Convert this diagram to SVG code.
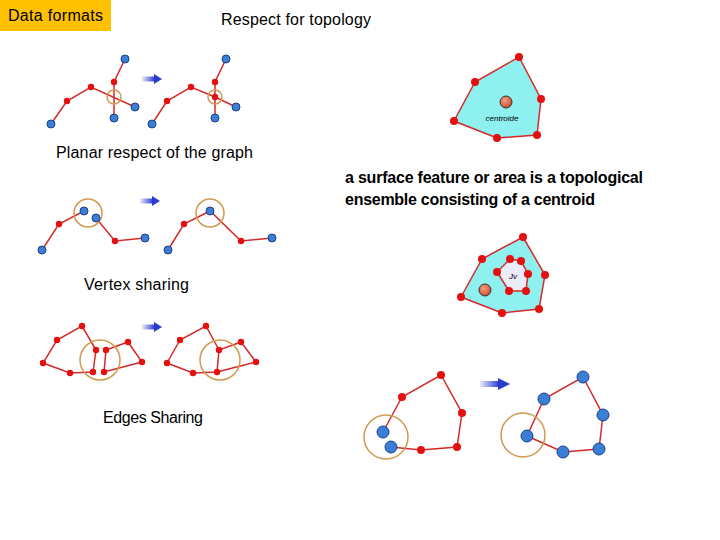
<svg xmlns="http://www.w3.org/2000/svg" width="720" height="540" viewBox="0 0 720 540">
<defs>
<style>
text{font-family:"Liberation Sans","Noto Sans",sans-serif;fill:#000}
.t{font-size:16px}
.e{stroke:#d42a2a;stroke-width:1.5;fill:none}
.r{fill:#e41010}
.b{fill:#3a7fd5;stroke:#1d3f8a;stroke-width:1}
.c{fill:none;stroke:#d09a50;stroke-width:1.5}
.poly{fill:#8ff0f0;stroke:#d42a2a;stroke-width:1.5}
</style>
<linearGradient id="ag" x1="0" x2="1"><stop offset="0" stop-color="#e8ecf8"/><stop offset="1" stop-color="#2a3bd0"/></linearGradient>
<radialGradient id="bg" cx="0.4" cy="0.35" r="0.7"><stop offset="0" stop-color="#8fc3ff"/><stop offset="1" stop-color="#1e5fc0"/></radialGradient>
<radialGradient id="og" cx="0.4" cy="0.35" r="0.7"><stop offset="0" stop-color="#f5a080"/><stop offset="1" stop-color="#c84a2a"/></radialGradient>
<g id="arr"><rect x="0" y="-2.5" width="13" height="5" fill="url(#ag)"/><path d="M12,-5 L20,0 L12,5 Z" fill="#2a3bd0"/></g>
</defs>
<rect x="0" y="0" width="111" height="31" fill="#ffc000"/>
<text class="t" x="8" y="21" textLength="95">Data formats</text>
<text class="t" x="221" y="25" textLength="150">Respect for topology</text>
<text class="t" x="56" y="158" textLength="197">Planar respect of the graph</text>
<text class="t" x="345" y="183" font-weight="bold" font-size="15" textLength="298">a surface feature or area is a topological</text>
<text class="t" x="345" y="205" font-weight="bold" font-size="15" textLength="250">ensemble consisting of a centroid</text>
<text class="t" x="84" y="290" textLength="105">Vertex sharing</text>
<text class="t" x="103" y="423" textLength="100">Edges Sharing</text>

<g id="connectors">
<polyline class="e" points="51,124 67,101 91,87 135,107"/>
<polyline class="e" points="125,59 114,82 114,118"/>
<polyline class="e" points="152,124 167,101 191,87 215,97 236,107"/>
<polyline class="e" points="226,59 215,82 215,118"/>
<polyline class="e" points="42,250 59,224 84,211"/>
<polyline class="e" points="96,218 115,241 145,238"/>
<polyline class="e" points="168,250 184,224 210,211 241,241 272,238"/>
<polyline class="e" points="96,350 82,326 57,340 43,363 70,373 93,372 96,350"/>
<polyline class="e" points="106,350 128,342 142,362 104,372 106,350"/>
<polyline class="e" points="219,350 206,326 180,340 167,363 193,373 217,372 219,350 241,342 256,362 217,372"/>
<polyline class="e" points="383,432 402,397 441,375 462,413 457,447 421,450 391,447"/>
<polyline class="e" points="527,436 544,399 583,377 603,415 599,449 563,452 527,436"/>
</g>

<g id="n1">
<circle class="c" cx="114" cy="97" r="7"/>
<circle class="r" cx="67" cy="101" r="3.2"/><circle class="r" cx="91" cy="87" r="3.2"/><circle class="r" cx="114" cy="82" r="3.2"/>
<circle class="b" cx="51" cy="124" r="4" fill="url(#bg)"/><circle class="b" cx="125" cy="59" r="4" fill="url(#bg)"/><circle class="b" cx="135" cy="107" r="4" fill="url(#bg)"/><circle class="b" cx="114" cy="118" r="4" fill="url(#bg)"/>
</g>
<use href="#arr" x="142" y="79"/>
<g id="n2">
<circle class="c" cx="215" cy="97" r="7"/>
<circle class="r" cx="167" cy="101" r="3.2"/><circle class="r" cx="191" cy="87" r="3.2"/><circle class="r" cx="215" cy="82" r="3.2"/><circle class="r" cx="215" cy="97" r="3.2"/>
<circle class="b" cx="152" cy="124" r="4" fill="url(#bg)"/><circle class="b" cx="226" cy="59" r="4" fill="url(#bg)"/><circle class="b" cx="236" cy="107" r="4" fill="url(#bg)"/><circle class="b" cx="215" cy="118" r="4" fill="url(#bg)"/>
</g>

<g id="n3">
<circle class="c" cx="88" cy="213" r="14"/>
<circle class="r" cx="59" cy="224" r="3.2"/><circle class="r" cx="115" cy="241" r="3.2"/>
<circle class="b" cx="42" cy="250" r="4" fill="url(#bg)"/><circle class="b" cx="84" cy="211" r="4" fill="url(#bg)"/><circle class="b" cx="96" cy="218" r="4" fill="url(#bg)"/><circle class="b" cx="145" cy="238" r="4" fill="url(#bg)"/>
</g>
<use href="#arr" x="140" y="201"/>
<g id="n4">
<circle class="c" cx="210" cy="213" r="14"/>
<circle class="r" cx="184" cy="224" r="3.2"/><circle class="r" cx="241" cy="241" r="3.2"/>
<circle class="b" cx="168" cy="250" r="4" fill="url(#bg)"/><circle class="b" cx="210" cy="211" r="4" fill="url(#bg)"/><circle class="b" cx="272" cy="238" r="4" fill="url(#bg)"/>
</g>

<g id="n5">
<circle class="c" cx="100" cy="360" r="20"/>
<g class="r"><circle cx="96" cy="350" r="3.2"/><circle cx="82" cy="326" r="3.2"/><circle cx="57" cy="340" r="3.2"/><circle cx="43" cy="363" r="3.2"/><circle cx="70" cy="373" r="3.2"/><circle cx="93" cy="372" r="3.2"/><circle cx="106" cy="350" r="3.2"/><circle cx="128" cy="342" r="3.2"/><circle cx="142" cy="362" r="3.2"/><circle cx="104" cy="372" r="3.2"/></g>
</g>
<use href="#arr" x="142" y="327"/>
<g id="n6">
<circle class="c" cx="220" cy="360" r="20"/>
<g class="r"><circle cx="219" cy="350" r="3.2"/><circle cx="206" cy="326" r="3.2"/><circle cx="180" cy="340" r="3.2"/><circle cx="167" cy="363" r="3.2"/><circle cx="193" cy="373" r="3.2"/><circle cx="217" cy="372" r="3.2"/><circle cx="241" cy="342" r="3.2"/><circle cx="256" cy="362" r="3.2"/></g>
</g>

<g id="n7">
<polygon class="poly" points="519,57 541,99 537,135 497,138 454,121 475,82"/>
<g class="r"><circle cx="519" cy="57" r="4"/><circle cx="541" cy="99" r="4"/><circle cx="537" cy="135" r="4"/><circle cx="497" cy="138" r="4"/><circle cx="454" cy="121" r="4"/><circle cx="475" cy="82" r="4"/></g>
<circle cx="506" cy="102" r="6" fill="url(#og)" stroke="#333" stroke-width="1"/>
<text x="502" y="121" font-size="8" font-style="italic" text-anchor="middle" fill="#2a3a50">centroide</text>
</g>

<g id="n8">
<polygon class="poly" points="523,237 545,275 539,309 502,313 461,297 482,259"/>
<polygon points="510,259 521,261 528,274 526,291 509,291 497,272" fill="#ecebf8" stroke="#d42a2a" stroke-width="1.5"/>
<g class="r"><circle cx="523" cy="237" r="4"/><circle cx="545" cy="275" r="4"/><circle cx="539" cy="309" r="4"/><circle cx="502" cy="313" r="4"/><circle cx="461" cy="297" r="4"/><circle cx="482" cy="259" r="4"/>
<circle cx="510" cy="259" r="4"/><circle cx="521" cy="261" r="4"/><circle cx="528" cy="274" r="4"/><circle cx="526" cy="291" r="4"/><circle cx="509" cy="291" r="4"/><circle cx="497" cy="272" r="4"/></g>
<circle cx="485" cy="290" r="6" fill="url(#og)" stroke="#333" stroke-width="1"/>
<text x="513" y="279" font-size="8" font-style="italic" text-anchor="middle" fill="#2a3a50">Jv</text>
</g>

<g id="n9">
<circle class="c" cx="386" cy="437" r="22"/>
<g class="r"><circle cx="402" cy="397" r="4"/><circle cx="441" cy="375" r="4"/><circle cx="462" cy="413" r="4"/><circle cx="457" cy="447" r="4"/><circle cx="421" cy="450" r="4"/></g>
<circle class="b" cx="383" cy="432" r="6" fill="url(#bg)"/><circle class="b" cx="391" cy="447" r="6" fill="url(#bg)"/>
</g>
<g transform="translate(480,384) scale(1.5,1.2)"><use href="#arr"/></g>
<g id="n10">
<circle class="c" cx="523" cy="435" r="22"/>
<circle class="b" cx="527" cy="436" r="6" fill="url(#bg)"/><circle class="b" cx="544" cy="399" r="6" fill="url(#bg)"/><circle class="b" cx="583" cy="377" r="6" fill="url(#bg)"/><circle class="b" cx="603" cy="415" r="6" fill="url(#bg)"/><circle class="b" cx="599" cy="449" r="6" fill="url(#bg)"/><circle class="b" cx="563" cy="452" r="6" fill="url(#bg)"/>
</g>
</svg>
